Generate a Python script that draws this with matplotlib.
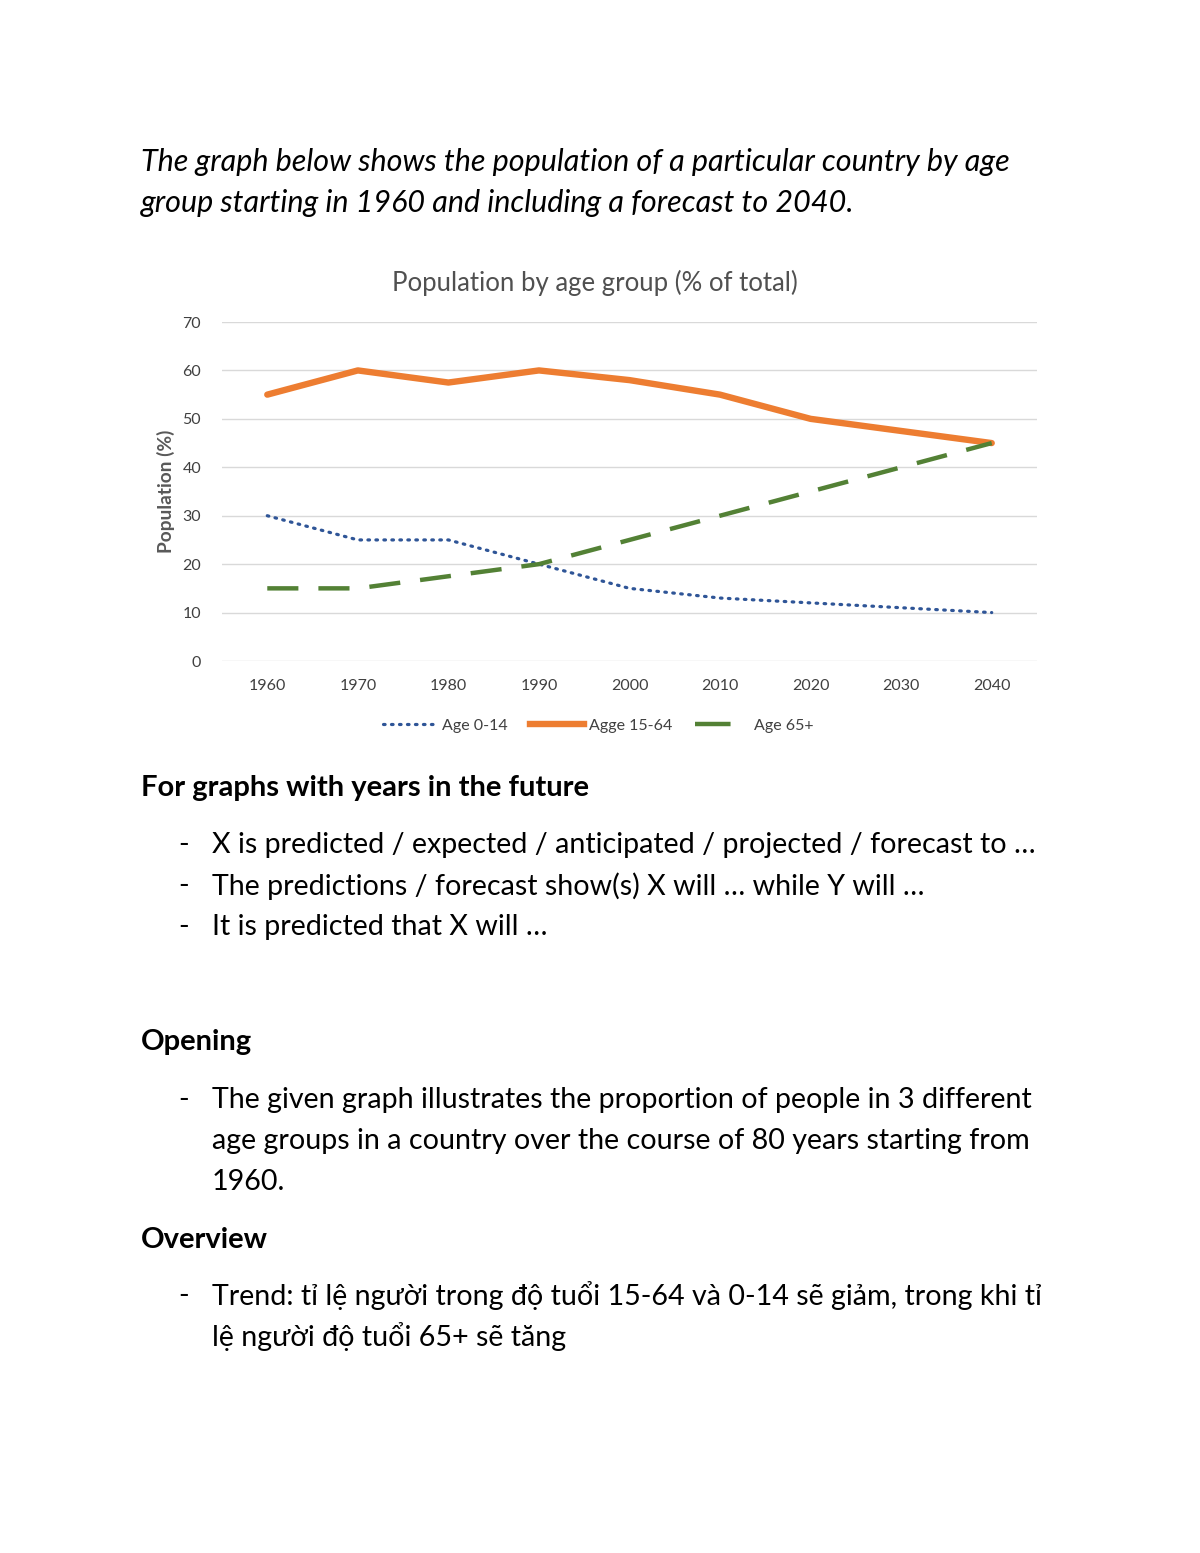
import matplotlib
matplotlib.use('Agg')
import matplotlib.pyplot as plt
from matplotlib.lines import Line2D

plt.rcParams['font.family'] = ['Lato', 'DejaVu Sans']

years = [1960, 1970, 1980, 1990, 2000, 2010, 2020, 2030, 2040]
age_0_14 = [30, 25, 25, 20, 15, 13, 12, 11, 10]
age_15_64 = [55, 60, 57.5, 60, 58, 55, 50, 47.5, 45]
age_65 = [15, 15, 17.5, 20, 25, 30, 35, 40, 45]
yticks = [0, 10, 20, 30, 40, 50, 60, 70]

W, H = 1200, 1553
fig = plt.figure(figsize=(W / 100, H / 100), dpi=100)


def px(x, y):
    return x / W, 1 - y / H


def put(x, y, s, **kw):
    kw.setdefault('fontsize', 20.6)
    kw.setdefault('color', 'black')
    fig.text(*px(x, y), s, va='center', ha=kw.pop('ha', 'left'), **kw)


# intro text
put(141, 162, 'The graph below shows the population of a particular country by age',
    style='italic', fontsize=22)
put(141, 203, 'group starting in 1960 and including a forecast to 2040.', style='italic', fontsize=22)

# chart
ax = fig.add_axes([222 / W, 1 - 661 / H, (1037 - 222) / W, (661 - 322) / H])
blue_ls = (0, (0.5, 2.0))
ax.plot(years, age_0_14, color='#2F5597', lw=2.3, ls=blue_ls, dash_capstyle='round')
ax.plot(years, age_15_64, color='#ED7D31', lw=4.6, solid_capstyle='round')
ax.plot(years, age_65, color='#538135', lw=3.2, ls=(0, (7, 4.5)))
ax.set_xlim(1955, 2045)
ax.set_ylim(0, 70)
ax.set_xticks(years)
ax.set_yticks(yticks)
ax.grid(axis='y', color='#d9d9d9', lw=1)
ax.set_axisbelow(True)
for sp in ax.spines.values():
    sp.set_visible(False)
ax.tick_params(length=0, labelsize=11.5, colors='#404040')
ax.tick_params(axis='x', pad=13)
ax.tick_params(axis='y', pad=15)
ax.set_ylabel('Population (%)', fontsize=13.8, fontweight='bold', color='#595959', labelpad=5)
fig.text(*px(595, 283), 'Population by age group (% of total)', ha='center', va='center',
         fontsize=18.5, color='#505050')

handles = [
    Line2D([], [], color='#2F5597', lw=2.3, ls=blue_ls, dash_capstyle='round'),
    Line2D([], [], color='#ED7D31', lw=4.6),
    Line2D([], [], color='#538135', lw=3.2, ls=(0, (8, 12))),
]
fig.legend(handles, ['Age 0-14', 'Agge 15-64', 'Age 65+'], loc='center',
           bbox_to_anchor=px(598, 726), ncol=3, frameon=False, fontsize=11.5,
           labelcolor='#404040', handlelength=3.4, columnspacing=1.4, handletextpad=0.3)

# notes
put(141, 788, 'For graphs with years in the future', fontweight='bold', fontsize=21)
bullets = [
    (845, 'X is predicted / expected / anticipated / projected / forecast to …'),
    (886, 'The predictions / forecast show(s) X will … while Y will …'),
    (927, 'It is predicted that X will …'),
]
for y, s in bullets:
    put(178, y, '-')
    put(212, y, s)

put(141, 1042, 'Opening', fontweight='bold', fontsize=21)
put(178, 1100, '-')
put(212, 1100, 'The given graph illustrates the proportion of people in 3 different')
put(212, 1141, 'age groups in a country over the course of 80 years starting from')
put(212, 1182, '1960.')

put(141, 1240, 'Overview', fontweight='bold', fontsize=21)
put(178, 1296, '-')
put(212, 1296, 'Trend: tỉ lệ người trong độ tuổi 15-64 và 0-14 sẽ giảm, trong khi tỉ')
put(212, 1337, 'lệ người độ tuổi 65+ sẽ tăng')

fig.savefig('out.png', dpi=100, facecolor='white')
